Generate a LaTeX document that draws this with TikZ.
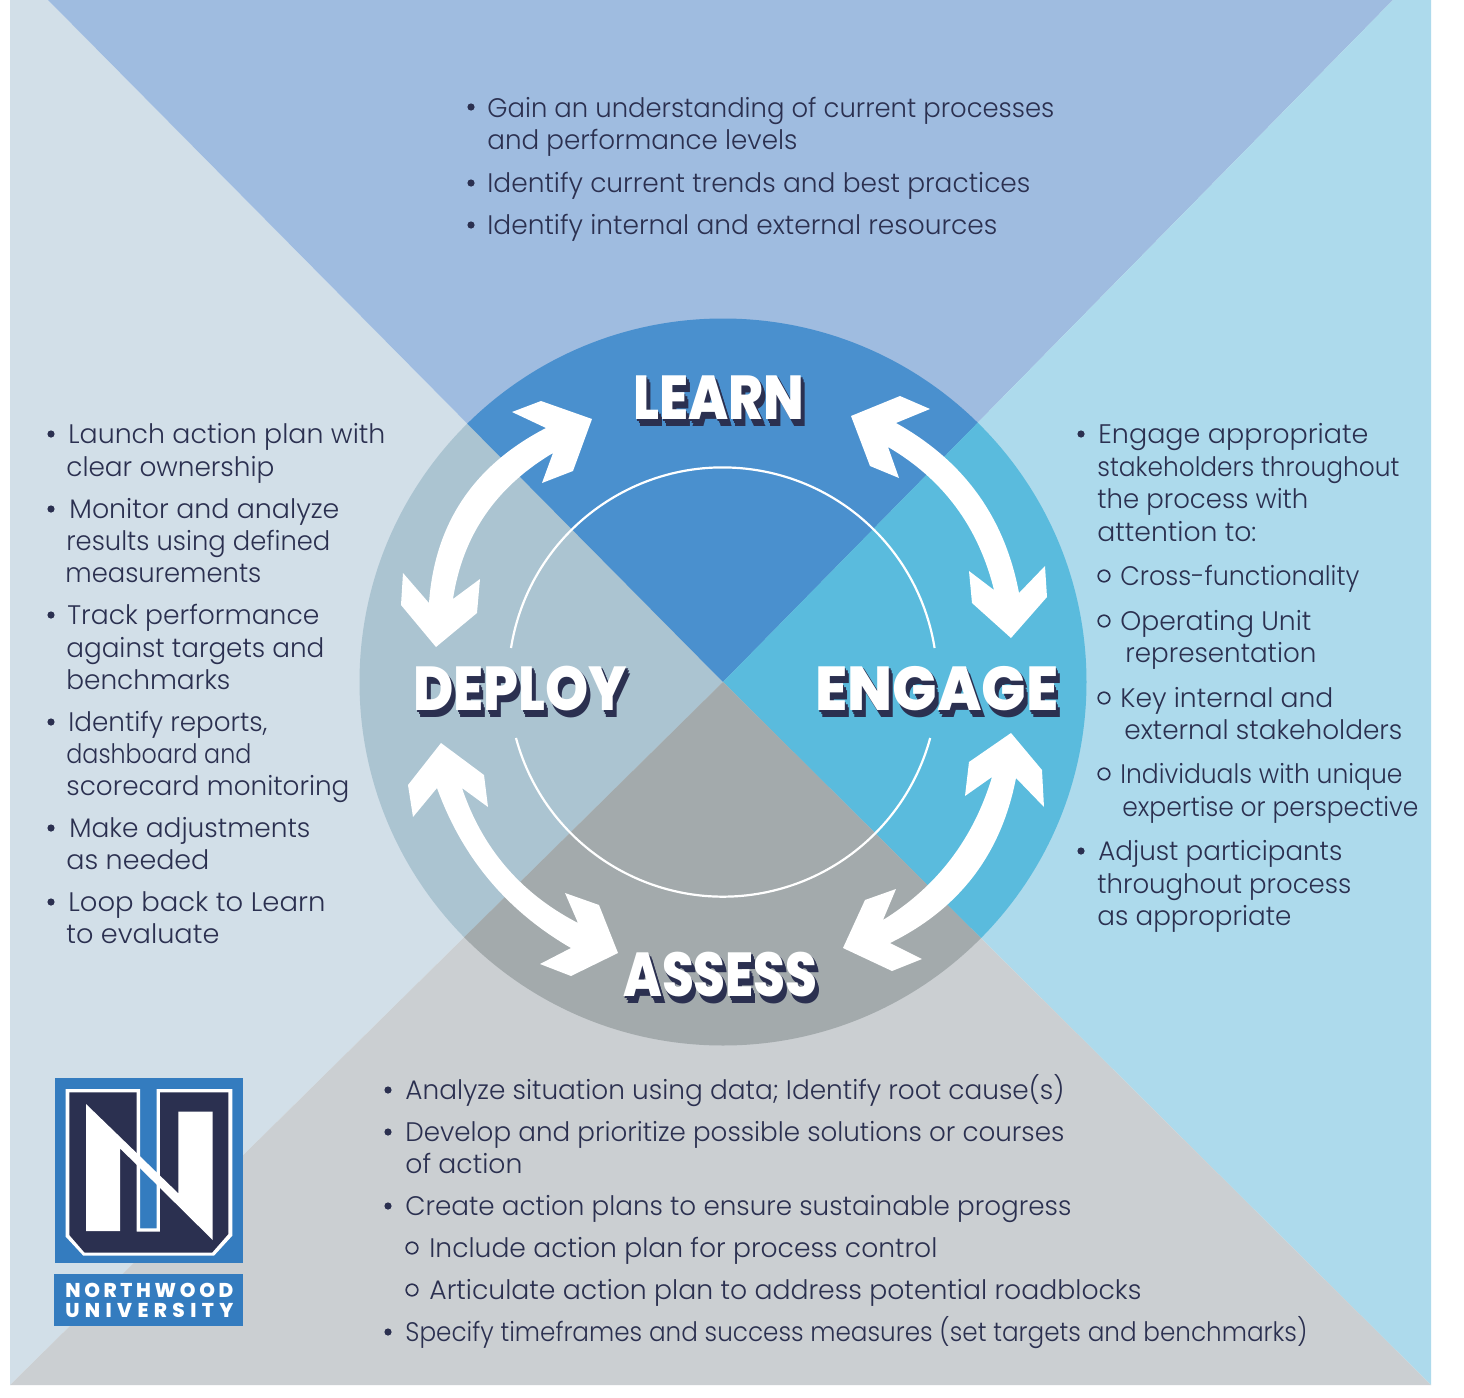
\documentclass[tikz,border=0pt]{standalone}
\usepackage{fontspec}
\usepackage{graphicx}
\setmainfont{Poppins Light}
\newfontfamily\headfont{Poppins ExtraBold}
\usetikzlibrary{calc}
\definecolor{topbg}{HTML}{9FBCE0}
\definecolor{leftbg}{HTML}{D2DFE8}
\definecolor{rightbg}{HTML}{ADDAEC}
\definecolor{botbg}{HTML}{CBCFD2}
\definecolor{topq}{HTML}{4A90CE}
\definecolor{leftq}{HTML}{ABC4D1}
\definecolor{rightq}{HTML}{5ABBDD}
\definecolor{botq}{HTML}{A3AAAC}
\definecolor{navy}{HTML}{2B3050}
\definecolor{logoblue}{HTML}{347CBF}
\newlength{\linew}
% #1 width of the white letters in pt, #2 word
\newcommand{\extruded}[2]{\leavevmode
  \rlap{\kern2pt\raisebox{-3.5pt}{\resizebox{#1pt}{\height}{\textcolor{navy}{#2}}}}%
  \rlap{\kern1.35pt\raisebox{-2.4pt}{\resizebox{#1pt}{\height}{\textcolor{navy}{#2}}}}%
  \rlap{\kern0.7pt\raisebox{-1.2pt}{\resizebox{#1pt}{\height}{\textcolor{navy}{#2}}}}%
  \resizebox{#1pt}{\height}{\textcolor{white}{#2}}}
% #1 left x, #2 mid y, #3 right x, #4 text
\newcommand{\tl}[4]{\pgfmathsetlength{\linew}{(#3-#1)*0.5pt}\node[bodytext] at (#1,#2+9) {\resizebox{\linew}{\height}{#4}};}
\newcommand{\bu}[2]{\fill[navy] (#1,#2) circle (3.6);}
\newcommand{\ob}[2]{\draw[navy,line width=0.8pt] (#1,#2) circle (5.8);}
\tikzset{
  bodytext/.style={anchor=base west,inner sep=0pt,text=navy,font=\fontsize{13.4}{16}\selectfont},
  headlabel/.style={anchor=base west,inner sep=0pt,font=\headfont\fontsize{31}{34}\selectfont},
  blockarrow/.style={fill=white,draw=none},
  innerring/.style={draw=white,line width=1.1pt}
}
\begin{document}
\begin{tikzpicture}[x=0.5pt,y=-0.5pt]
\useasboundingbox (0,0) rectangle (1464,1398);
\fill[white] (0,0) rectangle (1464,1398);
\coordinate (c) at (723,682);
% background triangles
\fill[leftbg] (10,0) -- (48,0) -- (c) -- (10,1385) -- cycle;
\fill[topbg] (48,0) -- (1393,0) -- (c) -- cycle;
\fill[rightbg] (1393,0) -- (1431,0) -- (1431,1385) -- (c) -- cycle;
\fill[botbg] (10,1385) -- (1431,1385) -- (c) -- cycle;
% disc quadrants
\begin{scope}
\clip (c) circle (363.5);
\fill[leftq] (10,0) -- (48,0) -- (c) -- (10,1385) -- cycle;
\fill[topq] (48,0) -- (1393,0) -- (c) -- cycle;
\fill[rightq] (1393,0) -- (1431,0) -- (1431,1385) -- (c) -- cycle;
\fill[botq] (10,1385) -- (1431,1385) -- (c) -- cycle;
\end{scope}
% inner ring
\draw[innerring] (511,648) arc[start angle=189.1,end angle=350.9,radius=214.5];
\draw[innerring] (516,738) arc[start angle=164.9,end angle=15.1,radius=214.5];
% block arrows
\fill[blockarrow] (592,419) -- (541,401) -- (512,412) -- (546,428)
  .. controls (473.6,465.4) and (434.6,523.7) .. (429,603)
  -- (403,573) -- (401,605) -- (436,647) -- (477,613) -- (480,579) -- (453,599)
  .. controls (462.6,535.5) and (495.9,486.9) .. (553,453)
  -- (542,483) -- (573,471) -- cycle;
\fill[blockarrow] (851,416) -- (900,396) -- (930,409) -- (896,423)
  .. controls (963.8,460.7) and (1004.8,517.4) .. (1019,593)
  -- (1045,566) -- (1047,597) -- (1011,638) -- (972,603) -- (969,571) -- (994,590)
  .. controls (978.4,526.9) and (943.1,479.2) .. (888,447)
  -- (899,478) -- (870,466) -- cycle;
\fill[blockarrow] (441,743) -- (484,775) -- (488,807) -- (462,788)
  .. controls (482.3,848.5) and (520.9,893.5) .. (578,923)
  -- (565,893) -- (599,905) -- (618,953) -- (571,976) -- (540,964) -- (571,948)
  .. controls (506.9,910.9) and (462.2,857.6) .. (437,788)
  -- (413,817) -- (408,785) -- cycle;
\fill[blockarrow] (1011,733) -- (969,762) -- (965,796) -- (992,777)
  .. controls (973.4,838.8) and (937.1,886.5) .. (883,920)
  -- (896,889) -- (865,900) -- (843,948) -- (892,971) -- (922,959) -- (890,943)
  .. controls (959.4,908.9) and (1001.4,853.9) .. (1016,778)
  -- (1044,807) -- (1042,770) -- cycle;
% headings
\node[headlabel] (learn) at (633,419) {\extruded{85.5}{LEARN}};
\node[headlabel] (engage) at (815,710) {\extruded{121.5}{ENGAGE}};
\node[headlabel] (deploy) at (413,710) {\extruded{107}{DEPLOY}};
\node[headlabel] (assess) at (623,996) {\extruded{97}{ASSESS}};
% top text
\bu{471}{107}\tl{487}{108}{1054}{Gain an understanding of current processes}
\tl{487}{140}{797}{and performance levels}
\bu{471}{183}\tl{487}{183}{1030}{Identify current trends and best practices}
\bu{471}{225}\tl{487}{225}{997}{Identify internal and external resources}
% left text
\bu{51}{434}\tl{68}{434}{385}{Launch action plan with}
\tl{66}{467}{274}{clear ownership}
\bu{51}{509}\tl{69}{509}{339}{Monitor and analyze}
\tl{66}{541}{330}{results using defined}
\tl{65}{573}{261}{measurements}
\bu{51}{615}\tl{67}{615}{319}{Track performance}
\tl{66}{648}{324}{against targets and}
\tl{66}{680}{230}{benchmarks}
\bu{51}{722}\tl{68}{722}{267}{Identify reports,}
\tl{66}{754}{251}{dashboard and}
\tl{66}{786}{349}{scorecard monitoring}
\bu{51}{828}\tl{69}{828}{310}{Make adjustments}
\tl{66}{860}{209}{as needed}
\bu{51}{902}\tl{68}{902}{325}{Loop back to Learn}
\tl{66}{934}{219}{to evaluate}
% right text
\bu{1081}{434}\tl{1098}{434}{1368}{Engage appropriate}
\tl{1097}{467}{1399}{stakeholders throughout}
\tl{1097}{499}{1308}{the process with}
\tl{1097}{532}{1256}{attention to:}
\ob{1104}{576}\tl{1120}{576}{1359}{Cross-functionality}
\ob{1104}{621}\tl{1120}{621}{1311}{Operating Unit}
\tl{1125}{653}{1316}{representation}
\ob{1104}{698}\tl{1120}{698}{1333}{Key internal and}
\tl{1124}{730}{1402}{external stakeholders}
\ob{1104}{774}\tl{1120}{774}{1402}{Individuals with unique}
\tl{1122}{807}{1418}{expertise or perspective}
\bu{1081}{851}\tl{1098}{851}{1342}{Adjust participants}
\tl{1097}{884}{1351}{throughout process}
\tl{1097}{916}{1291}{as appropriate}
% bottom text
\bu{388}{1090}\tl{405}{1090}{1064}{Analyze situation using data; Identify root cause(s)}
\bu{388}{1132}\tl{405}{1132}{1064}{Develop and prioritize possible solutions or courses}
\tl{405}{1164}{522}{of action}
\bu{388}{1206}\tl{405}{1206}{1071}{Create action plans to ensure sustainable progress}
\ob{412}{1248}\tl{429}{1248}{937}{Include action plan for process control}
\ob{412}{1290}\tl{429}{1290}{1141}{Articulate action plan to address potential roadblocks}
\bu{388}{1332}\tl{405}{1332}{1307}{Specify timeframes and success measures (set targets and benchmarks)}
% logo
\begin{scope}[shift={(30,1060)},x=0.16667pt,y=-0.16667pt]
\fill[logoblue] (75,55) rectangle (640,610);
\fill[logoblue] (72,642) rectangle (640,798);
\fill[white] (107,87) -- (330,87) -- (330,505) -- (380,505) -- (380,87) -- (607,87) -- (607,527) -- (552,587) -- (160,587) -- (107,530) -- cycle;
\fill[navy] (118,97) -- (320,97) -- (320,515) -- (390,515) -- (390,97) -- (595,97) -- (595,522) -- (546,578) -- (164,578) -- (118,525) -- cycle;
\fill[white] (168,132) -- (445,400) -- (445,155) -- (548,155) -- (548,540) -- (270,265) -- (270,513) -- (168,513) -- cycle;
\node[inner sep=0pt,text=white,font=\headfont\fontsize{10}{12}\selectfont] (nw) at (358,690) {\makebox[84pt][s]{N\hfil O\hfil R\hfil T\hfil H\hfil W\hfil O\hfil O\hfil D}};
\node[inner sep=0pt,text=white,font=\headfont\fontsize{10}{12}\selectfont] (un) at (358,750) {\makebox[84pt][s]{U\hfil N\hfil I\hfil V\hfil E\hfil R\hfil S\hfil I\hfil T\hfil Y}};
\end{scope}
\end{tikzpicture}
\end{document}
